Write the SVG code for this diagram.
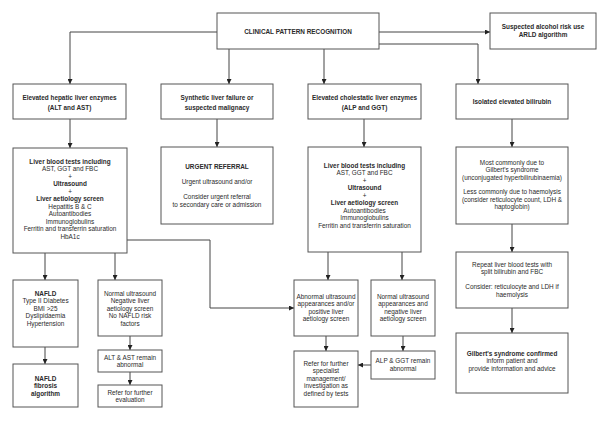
<svg xmlns="http://www.w3.org/2000/svg" width="610" height="421" viewBox="0 0 610 421">
<defs>
<marker id="ah" markerUnits="userSpaceOnUse" markerWidth="5" markerHeight="5" refX="5" refY="2.5" orient="auto">
<path d="M0,0 L5,2.5 L0,5 z" fill="#222"/>
</marker>
<style>
rect{fill:#fff;stroke:#555;stroke-width:1}
text{font-family:"Liberation Sans",Arial,sans-serif;font-size:6.4px;fill:#2a2a2a;text-anchor:middle}
.b{font-weight:bold}
#connectors path{fill:none;stroke:#444;stroke-width:1;marker-end:url(#ah)}
</style>
</defs>
<rect x="0" y="0" width="610" height="421" style="fill:#fff;stroke:none"/>
<g id="connectors">
<path d="M217,32 H70 V84"/>
<path d="M229,49 V84"/>
<path d="M324,49 V84"/>
<path d="M379,32 H490"/>
<path d="M379,44 H478 V84"/>
<path d="M70,119 V148"/>
<path d="M217,119 V147"/>
<path d="M364,119 V147"/>
<path d="M512,119 V147"/>
<path d="M45,253 V280"/>
<path d="M115,253 V280"/>
<path d="M127,240 H210 V308 H294"/>
<path d="M328,252 V280"/>
<path d="M402,252 V280"/>
<path d="M512,224 V252"/>
<path d="M512,308 V333"/>
<path d="M45,347 V364"/>
<path d="M130,336 V350"/>
<path d="M130,372 V385"/>
<path d="M326,336 V351"/>
<path d="M403,336 V351"/>
<path d="M371,365 H358"/>
</g>
<g id="clinical">
<rect x="217" y="13" width="162" height="36"/>
<text class="b" x="298" y="33.5">CLINICAL PATTERN RECOGNITION</text>
</g>
<g id="alcohol">
<rect x="490" y="13" width="106" height="36"/>
<text class="b" x="543" y="28.5">Suspected alcohol risk use</text>
<text class="b" x="543" y="37">ARLD algorithm</text>
</g>
<g id="hepatic">
<rect x="13" y="84" width="113" height="35"/>
<text class="b" x="69.5" y="99.5">Elevated hepatic liver enzymes</text>
<text class="b" x="69.5" y="110">(ALT and AST)</text>
</g>
<g id="synthetic">
<rect x="161" y="84" width="112" height="35"/>
<text class="b" x="217" y="99.5">Synthetic liver failure or</text>
<text class="b" x="217" y="110">suspected malignacy</text>
</g>
<g id="cholestatic">
<rect x="308" y="84" width="113" height="35"/>
<text class="b" x="364.5" y="99.5">Elevated cholestatic liver enzymes</text>
<text class="b" x="364.5" y="110">(ALP and GGT)</text>
</g>
<g id="bilirubin">
<rect x="456" y="84" width="112" height="35"/>
<text class="b" x="512" y="103.5">Isolated elevated bilirubin</text>
</g>
<g id="hepatic-tests">
<rect x="13" y="148" width="114" height="105"/>
<text class="b" x="70" y="163.5">Liver blood tests including</text>
<text x="70" y="171">AST, GGT and FBC</text>
<text x="70" y="178.5">+</text>
<text class="b" x="70" y="186">Ultrasound</text>
<text x="70" y="193.5">+</text>
<text class="b" x="70" y="201">Liver aetiology screen</text>
<text x="70" y="208.5">Hepatitis B &amp; C</text>
<text x="70" y="216">Autoantibodies</text>
<text x="70" y="223.5">Immunoglobulins</text>
<text x="70" y="231">Ferritin and transferrin saturation</text>
<text x="70" y="238.5">HbA1c</text>
</g>
<g id="urgent">
<rect x="161" y="147" width="112" height="77"/>
<text class="b" x="217" y="168.5">URGENT REFERRAL</text>
<text x="217" y="184">Urgent ultrasound and/or</text>
<text x="217" y="198.5">Consider urgent referral</text>
<text x="217" y="206.5">to secondary care or admission</text>
</g>
<g id="cholestatic-tests">
<rect x="308" y="147" width="113" height="105"/>
<text class="b" x="364.5" y="167.5">Liver blood tests including</text>
<text x="364.5" y="175">AST, GGT and FBC</text>
<text x="364.5" y="182.5">+</text>
<text class="b" x="364.5" y="190">Ultrasound</text>
<text x="364.5" y="197.5">+</text>
<text class="b" x="364.5" y="205">Liver aetiology screen</text>
<text x="364.5" y="212.5">Autoantibodies</text>
<text x="364.5" y="220">Immunoglobulins</text>
<text x="364.5" y="227.5">Ferritin and transferrin saturation</text>
</g>
<g id="bilirubin-causes">
<rect x="456" y="147" width="112" height="77"/>
<text x="512" y="164.5">Most commonly due to</text>
<text x="512" y="172">Gilbert's syndrome</text>
<text x="512" y="179.5">(unconjugated hyperbilirubinaemia)</text>
<text x="512" y="194">Less commonly due to haemolysis</text>
<text x="512" y="201.5">(consider reticulocyte count, LDH &amp;</text>
<text x="512" y="209">haptoglobin)</text>
</g>
<g id="repeat">
<rect x="456" y="252" width="112" height="56"/>
<text x="512" y="266.5">Repeat liver blood tests with</text>
<text x="512" y="274">split bilirubin and FBC</text>
<text x="512" y="289">Consider: reticulocyte and LDH if</text>
<text x="512" y="296.5">haemolysis</text>
</g>
<g id="gilbert">
<rect x="456" y="333" width="112" height="60"/>
<text class="b" x="512" y="355.5">Gilbert's syndrome confirmed</text>
<text x="512" y="363">inform patient and</text>
<text x="512" y="370.5">provide information and advice</text>
</g>
<g id="nafld">
<rect x="13" y="280" width="65" height="67"/>
<text class="b" x="45.5" y="295.5">NAFLD</text>
<text x="45.5" y="303">Type II Diabetes</text>
<text x="45.5" y="310.5">BMI &gt;25</text>
<text x="45.5" y="318">Dyslipidaemia</text>
<text x="45.5" y="325.5">Hypertension</text>
</g>
<g id="nafld-fibrosis">
<rect x="13" y="364" width="65" height="43"/>
<text class="b" x="45.5" y="380.5">NAFLD</text>
<text class="b" x="45.5" y="388">fibrosis</text>
<text class="b" x="45.5" y="395.5">algorithm</text>
</g>
<g id="normal-hepatic">
<rect x="98" y="280" width="64" height="56"/>
<text x="130" y="295.5">Normal ultrasound</text>
<text x="130" y="303">Negative liver</text>
<text x="130" y="310.5">aetiology screen</text>
<text x="130" y="318">No NAFLD risk</text>
<text x="130" y="325.5">factors</text>
</g>
<g id="alt-ast">
<rect x="98" y="350" width="64" height="22"/>
<text x="130" y="359.5">ALT &amp; AST remain</text>
<text x="130" y="367">abnormal</text>
</g>
<g id="refer-eval">
<rect x="98" y="385" width="64" height="22"/>
<text x="130" y="394.5">Refer for further</text>
<text x="130" y="402">evaluation</text>
</g>
<g id="abnormal">
<rect x="294" y="280" width="64" height="56"/>
<text x="326" y="298.5">Abnormal ultrasound</text>
<text x="326" y="306">appearances and/or</text>
<text x="326" y="313.5">positive liver</text>
<text x="326" y="321">aetiology screen</text>
</g>
<g id="refer-specialist">
<rect x="294" y="351" width="64" height="56"/>
<text x="326" y="365.5">Refer for further</text>
<text x="326" y="373">specialist</text>
<text x="326" y="380.5">management/</text>
<text x="326" y="388">investigation as</text>
<text x="326" y="395.5">defined by tests</text>
</g>
<g id="normal-cholestatic">
<rect x="371" y="280" width="64" height="56"/>
<text x="403" y="298.5">Normal ultrasound</text>
<text x="403" y="306">appearances and</text>
<text x="403" y="313.5">negative liver</text>
<text x="403" y="321">aetiology screen</text>
</g>
<g id="alp-ggt">
<rect x="371" y="351" width="64" height="28"/>
<text x="403" y="363">ALP &amp; GGT remain</text>
<text x="403" y="370.5">abnormal</text>
</g>
</svg>
